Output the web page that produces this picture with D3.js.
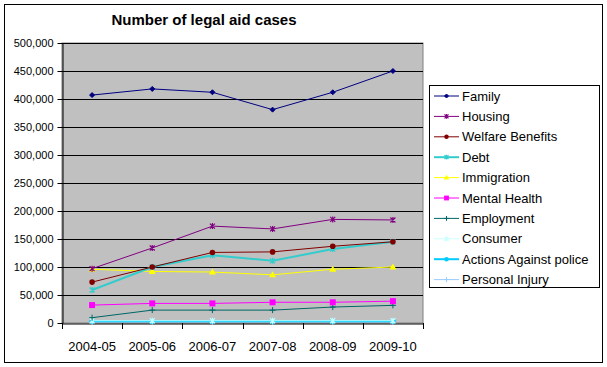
<!DOCTYPE html>
<html><head><meta charset="utf-8">
<script src="https://cdn.jsdelivr.net/npm/d3@7"></script>
<style>body{margin:0;background:#fff}svg{display:block;font-family:Arial,"Liberation Sans",sans-serif}</style>
</head><body>
<svg id="c" width="607" height="367"></svg>
<script>
const categories = ["2004-05","2005-06","2006-07","2007-08","2008-09","2009-10"];
const seriesNames = ["Family","Housing","Welfare Benefits","Debt","Immigration","Mental Health","Employment","Consumer","Actions Against police","Personal Injury"];
const family = [407000,418000,412000,381000,412000,450000];
const housing = [97000,134000,173000,168000,185000,184000];
const welfare = [73000,100000,126000,127000,137000,145000];
const debt = [59000,100000,121000,111000,132000,145000];
const immigration = [96000,92000,91000,86000,96000,100000];
const mentalHealth = [32000,35000,35000,37000,37000,39000];
const employment = [9500,23000,23000,23000,28500,31500];
const consumer = [4000,4000,4000,4000,4000,4000];
const actionsPolice = [3000,3000,3000,3000,3000,3000];
const personalInjury = [2000,2000,2000,2000,2000,2000];
const yTicks = [0,50000,100000,150000,200000,250000,300000,350000,400000,450000,500000];

const colors = ["#000080","#800080","#800000","#33CCCC","#FFFF00","#FF00FF","#006666","#CCFFFF","#00CCFF","#99CCFF"];
const markers = ["diamond","star","circle","star","triangle","square","plus","star","circle","plus"];
const widths = [1,1,1,2,1,1,1,1,2,1];
const data = [family,housing,welfare,debt,immigration,mentalHealth,employment,consumer,actionsPolice,personalInjury];

const svg = d3.select("#c");
svg.append("rect").attr("x",4.5).attr("y",4.5).attr("width",598).attr("height",358).attr("fill","#fff").attr("stroke","#000");

const L=62,R=423,T=43,B=323;
const x = d3.scaleBand().domain(categories).range([L,R]);
const y = d3.scaleLinear().domain([0,500000]).range([B,T]);

svg.append("rect").attr("x",L).attr("y",T).attr("width",R-L).attr("height",B-T).attr("fill","#C0C0C0").attr("stroke","#808080");
svg.append("g").selectAll("line").data(yTicks.slice(1)).join("line")
 .attr("x1",L).attr("x2",R).attr("y1",d=>Math.round(y(d))+0.5).attr("y2",d=>Math.round(y(d))+0.5).attr("stroke","#000");

const yAxis = svg.append("g").attr("transform",`translate(${L+0.5},0)`)
 .call(d3.axisLeft(y).tickValues(yTicks).tickFormat(d3.format(",")).tickSize(5).tickSizeOuter(0));
yAxis.select(".domain").attr("stroke","#000");
yAxis.selectAll("text").attr("font-size",11).attr("fill","#000").attr("x",-9);
yAxis.selectAll("line").attr("stroke","#000");

const xg = svg.append("g").attr("transform",`translate(0,${B+0.5})`)
 .call(d3.axisBottom(x).tickSize(0).tickSizeOuter(0));
xg.select(".domain").attr("stroke","#000");
xg.selectAll("text").attr("font-size",13).attr("fill","#000").attr("dy","0").attr("y",27);
const bounds = categories.map(c=>x(c)).concat([R]);
svg.append("g").selectAll("line").data(bounds).join("line")
 .attr("x1",d=>Math.round(d)+0.5).attr("x2",d=>Math.round(d)+0.5).attr("y1",B).attr("y2",B+6).attr("stroke","#000");

function marker(g,type,cx,cy,col,sc){
  const s=2.5*sc;
  if(type==="diamond") g.append("path").attr("d",`M${cx},${cy-s}L${cx+s},${cy}L${cx},${cy+s}L${cx-s},${cy}Z`).attr("fill",col).attr("stroke",col);
  else if(type==="square") g.append("rect").attr("x",cx-3*sc).attr("y",cy-3*sc).attr("width",6*sc).attr("height",6*sc).attr("fill",col);
  else if(type==="circle") g.append("circle").attr("cx",cx).attr("cy",cy).attr("r",2.8*sc).attr("fill",col);
  else if(type==="triangle") g.append("path").attr("d",`M${cx},${cy-3.5*sc}L${cx+3.5*sc},${cy+2.5*sc}L${cx-3.5*sc},${cy+2.5*sc}Z`).attr("fill",col);
  else if(type==="plus") g.append("path").attr("d",`M${cx-3*sc},${cy}H${cx+3*sc}M${cx},${cy-3*sc}V${cy+3*sc}`).attr("stroke",col).attr("stroke-width",1);
  else if(type==="star") g.append("path").attr("d",`M${cx-2.5*sc},${cy-2.5*sc}L${cx+2.5*sc},${cy+2.5*sc}M${cx-2.5*sc},${cy+2.5*sc}L${cx+2.5*sc},${cy-2.5*sc}M${cx},${cy-3*sc}V${cy+3*sc}`).attr("stroke",col).attr("stroke-width",1.2);
}

const line = d3.line().x((d,i)=>x(categories[i])+x.bandwidth()/2).y(d=>y(d));
for(let k=data.length-1;k>=0;k--){
  const g=svg.append("g");
  g.append("path").attr("d",line(data[k])).attr("fill","none").attr("stroke",colors[k]).attr("stroke-width",widths[k]);
  data[k].forEach((v,i)=>marker(g,markers[k],x(categories[i])+x.bandwidth()/2,y(v),colors[k],1));
}

svg.append("text").attr("x",204).attr("y",25).attr("text-anchor","middle").attr("font-size",15).attr("font-weight","bold").text("Number of legal aid cases");

const lg = svg.append("g");
lg.append("rect").attr("x",429.5).attr("y",85.5).attr("width",170).attr("height",202).attr("fill","#fff").attr("stroke","#000");
seriesNames.forEach((n,k)=>{
  const yy=96+k*20.4;
  lg.append("line").attr("x1",434).attr("x2",459).attr("y1",yy).attr("y2",yy).attr("stroke",colors[k]).attr("stroke-width",widths[k]);
  marker(lg,markers[k],446.5,yy,colors[k],0.8);
  lg.append("text").attr("x",462).attr("y",yy+4.5).attr("font-size",13).attr("fill","#000").text(n);
});
</script>
</body></html>
